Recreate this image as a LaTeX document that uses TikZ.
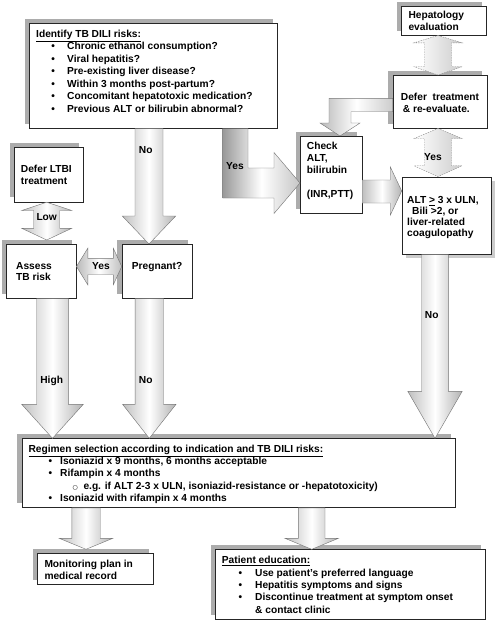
\documentclass[tikz,border=0pt]{standalone}
\usepackage{fontspec}
\setmainfont{Liberation Sans}
\newfontfamily\symfnt{DejaVu Sans}
\usetikzlibrary{shadows,calc}
\tikzset{
 box/.style={draw=black!85, line width=0.5pt, fill=white, anchor=north west, inner sep=0pt,
   drop shadow={shadow xshift=-4.5pt, shadow yshift=4.5pt, fill=gray!65, opacity=1}},
 boxr/.style={draw=black!85, line width=0.5pt, fill=white, anchor=north west, inner sep=0pt,
   drop shadow={shadow xshift=4pt, shadow yshift=-4pt, fill=gray!40, opacity=1}},
 txt/.style={inner sep=0pt, anchor=north west, align=left, font=\bfseries\fontsize{10.2}{#1}\selectfont},
 txt/.default=12.5,
 lbl/.style={inner sep=0pt, anchor=base, font=\bfseries\fontsize{10.2}{12}\selectfont},
 blk/.style={draw=black!55, line width=0.4pt, left color=gray!50, right color=gray!60, middle color=white},
 blkh/.style={draw=black!55, line width=0.4pt, left color=gray!55, right color=gray!50, middle color=white},
 blkd/.style={draw=black!45, line width=0.4pt, dash pattern=on 1.5pt off 1pt, left color=white, right color=gray!40},
}
\newcommand{\bul}[2]{\makebox[#1pt][l]{\hspace*{#2pt}\textbullet}}
\newcommand{\vblk}[7][blk]{%
 \path[#1] let \p1=(#3), \p2=(#4) in
 (#2pt-#5pt,\y1) -- (#2pt+#5pt,\y1) -- (#2pt+#5pt,\y2+#7pt) -- (#2pt+#6pt,\y2+#7pt) -- (#2pt,\y2)
 -- (#2pt-#6pt,\y2+#7pt) -- (#2pt-#5pt,\y2+#7pt) -- cycle;}
\newcommand{\vdbl}[8][blk]{%
 \path[#1] let \p1=(#3), \p2=(#4) in
 (#2pt,\y1) -- (#2pt+#6pt,\y1-#7pt) -- (#2pt+#5pt,\y1-#7pt) -- (#2pt+#5pt,\y2+#8pt) -- (#2pt+#6pt,\y2+#8pt)
 -- (#2pt,\y2) -- (#2pt-#6pt,\y2+#8pt) -- (#2pt-#5pt,\y2+#8pt) -- (#2pt-#5pt,\y1-#7pt) -- (#2pt-#6pt,\y1-#7pt) -- cycle;}
\begin{document}
\begin{tikzpicture}[x=1pt,y=-1pt]
\useasboundingbox (0,0) rectangle (500,621);
\fill[white] (0,0) rectangle (500,621);
% boxes
\node[box, minimum width=248pt, minimum height=105pt] (dili) at (29,23) {};
\node[box, minimum width=85pt, minimum height=29pt] (hepat) at (401,6) {};
\node[box, minimum width=94pt, minimum height=53pt] (defer) at (392.7,75) {};
\node[box, minimum width=61.7pt, minimum height=77pt] (check) at (300,136) {};
\node[boxr, minimum width=89.3pt, minimum height=77.3pt] (alt) at (401.7,176.7) {};
\node[box, minimum width=69.3pt, minimum height=54.4pt] (ltbi) at (14,147.3) {};
\node[box, minimum width=70pt, minimum height=53.7pt] (assess) at (6,244.3) {};
\node[box, minimum width=70.6pt, minimum height=54pt] (preg) at (121.7,244) {};
\node[box, minimum width=433.3pt, minimum height=69pt] (regimen) at (21.7,438.3) {};
\node[box, minimum width=116pt, minimum height=30.7pt] (monitor) at (37.3,553.3) {};
\node[box, minimum width=270pt, minimum height=70pt] (patient) at (215,549.3) {};
% texts
\node[txt] (diliT) at (36,29.7) {\underline{Identify TB DILI risks:}\\
 \bul{31}{15.2}Chronic ethanol consumption?\\
 \bul{31}{15.2}Viral hepatitis?\\
 \bul{31}{15.2}Pre-existing liver disease?\\
 \bul{31}{15.2}Within 3 months post-partum?\\
 \bul{31}{15.2}Concomitant hepatotoxic medication?\\
 \bul{31}{15.2}Previous ALT or bilirubin abnormal?};
\node[txt=11.7] (hepatT) at (408.3,11.4) {Hepatology\\evaluation};
\node[txt=11.6] (deferT) at (400.7,93.1) {Defer\ \ treatment\\\hspace*{2pt}\& re-evaluate.};
\node[txt=12] (checkT) at (306.7,142.4) {Check\\ALT,\\bilirubin\\[12pt](INR,PTT)};
\node[txt=11] (altT) at (407,196.4) {ALT \underline{>} 3 x ULN,\\\hspace*{5pt}Bili >2, or\\liver-related\\coagulopathy};
\node[txt=12.7] (ltbiT) at (20.7,164.7) {Defer LTBI\\treatment};
\node[txt=10.7] (assessT) at (16,262.4) {Assess\\TB risk};
\node[txt] (pregT) at (131.7,262.4) {Pregnant?};
\node[txt=12.3] (regT) at (28.3,444.7) {\underline{Regimen selection according to indication and TB DILI risks:}\\
 \bul{31.7}{20}Isoniazid x 9 months, 6 months acceptable\\
 \bul{31.7}{20}Rifampin x 4 months\\
 \makebox[55pt][l]{\hspace*{44.2pt}{\symfnt\fontsize{6}{6}\selectfont ○}}e.g. if ALT 2-3 x ULN, isoniazid-resistance or -hepatotoxicity)\\
 \bul{31.7}{20}Isoniazid with rifampin x 4 months};
\node[txt=11.7] (monT) at (44.3,560.4) {Monitoring plan in\\medical record};
\node[txt=12.3] (patT) at (221.7,556.4) {\underline{Patient education:}\\
 \bul{33.3}{16.6}Use patient's preferred language\\
 \bul{33.3}{16.6}Hepatitis symptoms and signs\\
 \bul{33.3}{16.6}Discontinue treatment at symptom onset\\
 \hspace*{33.3pt}\& contact clinic};
% block arrows
\vblk{149}{dili.south}{preg.north}{14}{26.7}{28}
\vblk{52.5}{assess.south}{regimen.north}{15.8}{30.8}{34}
\vblk{149.3}{preg.south}{regimen.north}{14.2}{26.7}{34}
\vblk{435}{alt.south}{regimen.north}{13.3}{27.2}{47}
\vblk{86}{regimen.south}{$(monitor.north)+(0,-4)$}{14.2}{26.8}{11}
\vblk{311.7}{regimen.south}{patient.north}{13.3}{26.7}{11}
\vdbl{46.7}{ltbi.south}{$(assess.north)+(0,-4.3)$}{13}{25}{8.3}{11.7}
\vdbl[blkd]{438}{hepat.south}{defer.north}{13.5}{24}{7.3}{8.3}
\vdbl[blkd]{438}{defer.south}{alt.north}{13.5}{24}{10}{11}
\path[blkh] let \p1=(assess.east), \p2=(preg.west) in
 (\x1,-266.5pt) -- (\x1+11.3pt,-248.2pt) -- (\x1+11.3pt,-258.3pt) -- (\x2-8.4pt,-258.3pt)
 -- (\x2-8.4pt,-248.2pt) -- (\x2,-266.5pt) -- (\x2-8.4pt,-284.8pt) -- (\x2-8.4pt,-274.7pt)
 -- (\x1+11.3pt,-274.7pt) -- (\x1+11.3pt,-284.8pt) -- cycle;
\path[blk] let \p1=(check.east), \p2=(alt.west) in
 (\x1,-180pt) -- (\x2-11.5pt,-180pt) -- (\x2-11.5pt,-166.7pt) -- (\x2,-191pt)
 -- (\x2-11.5pt,-215.3pt) -- (\x2-11.5pt,-203pt) -- (\x1,-203pt) -- cycle;
\path[draw=black!55, line width=0.4pt, left color=gray!80, right color=gray!45, middle color=white]
 let \p1=(dili.south), \p2=(check.west) in
 (222.7pt,\y1) -- (248pt,\y1) -- (248pt,-168pt) -- (\x2-26pt,-168pt) -- (\x2-26pt,-152.5pt)
 -- (\x2,-183pt) -- (\x2-26pt,-213.5pt) -- (\x2-26pt,-198pt) -- (222.7pt,-198pt) -- cycle;
\path[draw=black!55, line width=0.4pt, left color=gray!55, right color=gray!40, middle color=white]
 let \p1=(defer.west), \p2=(check.north) in
 (\x1,-98.3pt) -- (329pt,-98.3pt) -- (329pt,\y2+13pt) -- (320pt,\y2+13pt) -- (340pt,\y2)
 -- (360pt,\y2+13pt) -- (351pt,\y2+13pt) -- (351pt,-111.7pt) -- (\x1,-111.7pt) -- cycle;
% labels
\node[lbl] (l1) at (145.7,153.6) {No};
\node[lbl] (l2) at (46.7,220.6) {Low};
\node[lbl] (l3) at (101,269.6) {Yes};
\node[lbl] (l4) at (51.7,383.6) {High};
\node[lbl] (l5) at (145.7,383.6) {No};
\node[lbl] (l6) at (431.7,318.6) {No};
\node[lbl] (l7) at (433,160.6) {Yes};
\node[lbl] (l8) at (235,169.6) {Yes};
\end{tikzpicture}
\end{document}
